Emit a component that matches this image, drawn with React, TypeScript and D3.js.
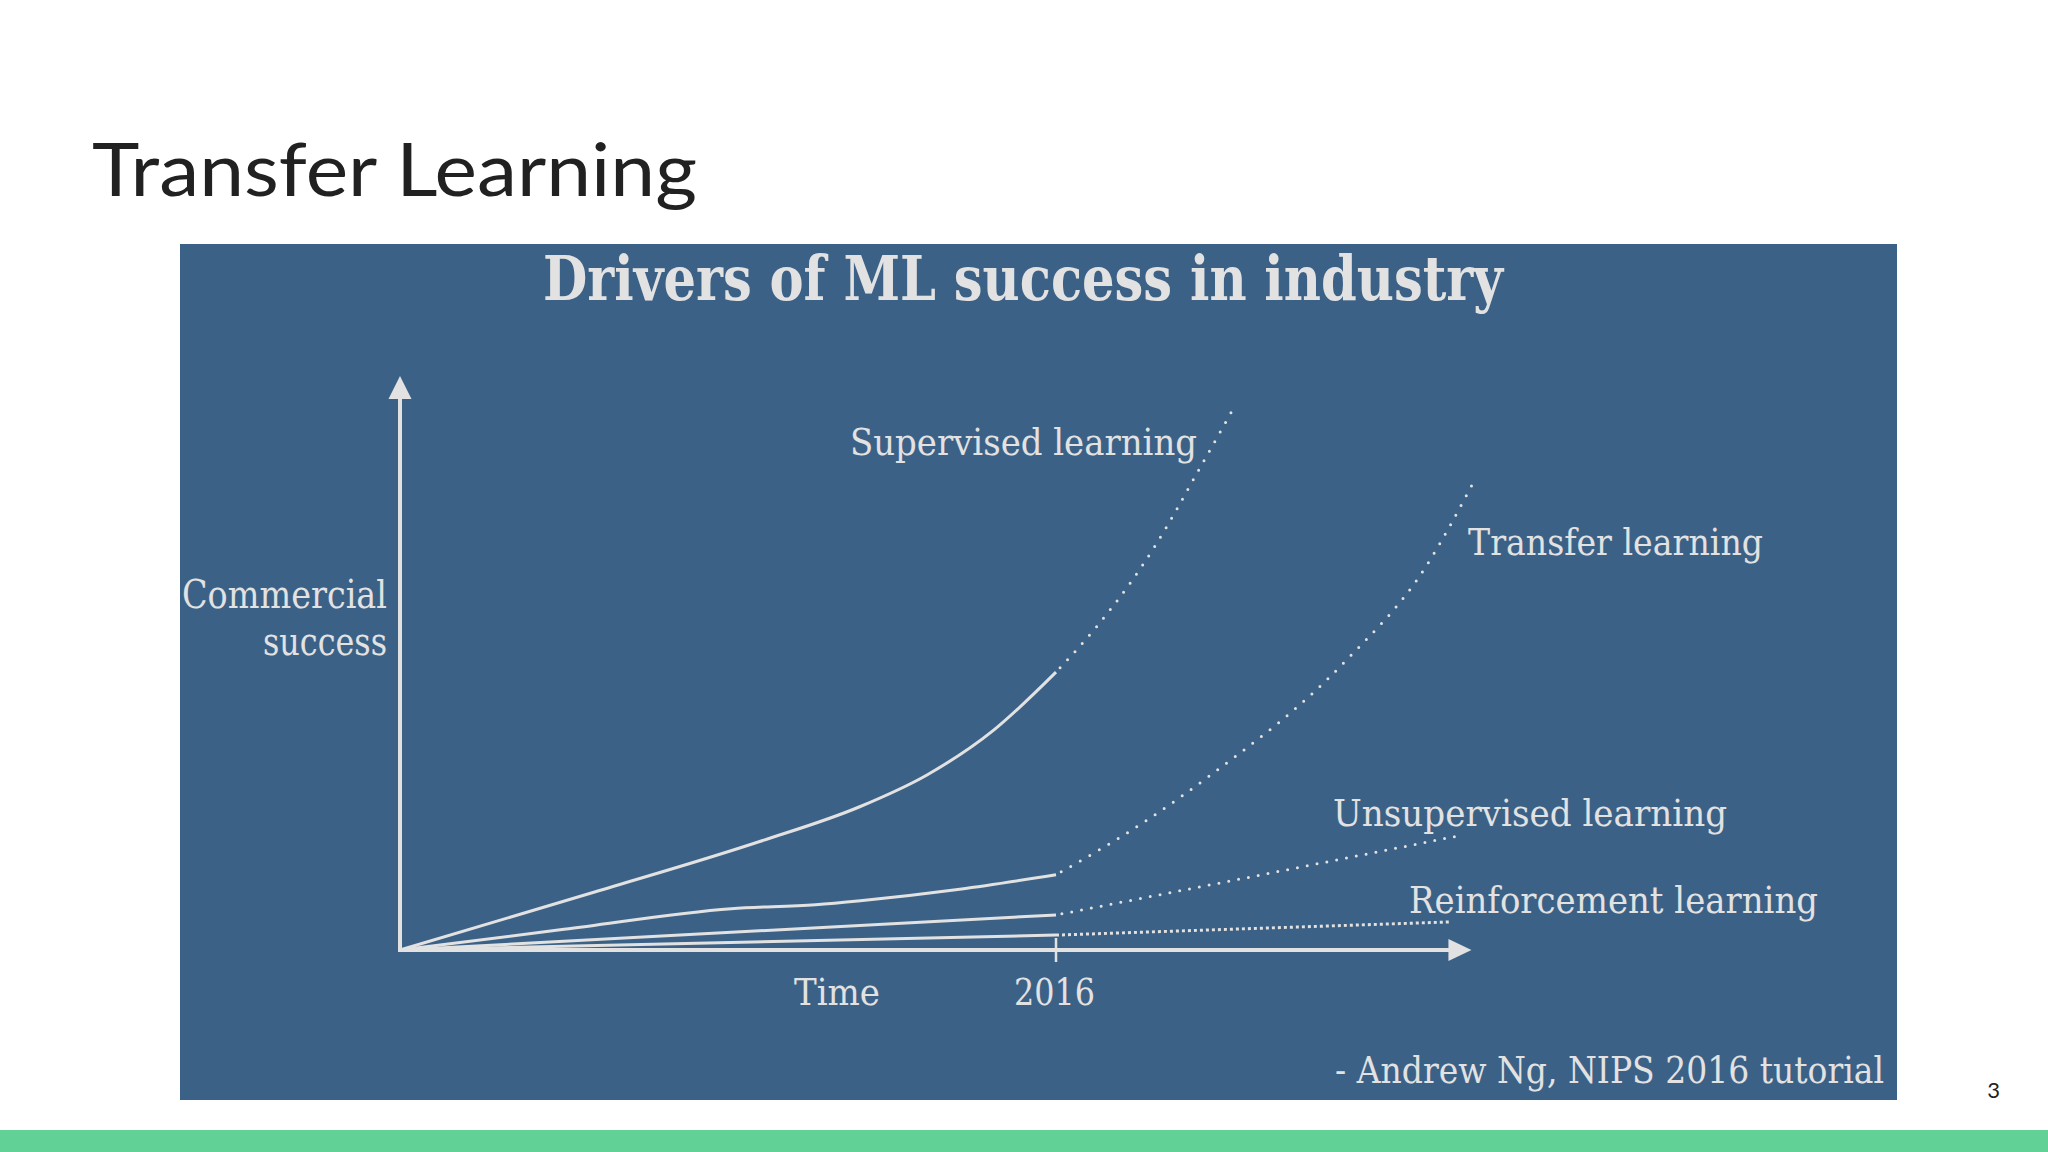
import React from 'react';
import { scaleLinear, line, curveMonotoneX } from 'd3';

// time units: 0 = origin, 60 = 2016; value units: 0..100 of commercial success
const seriesNames = ['Supervised learning', 'Transfer learning', 'Unsupervised learning', 'Reinforcement learning'];

const supervisedPast = [[0, 0], [17.8, 10.1], [32.9, 18.9], [42.1, 25.0], [48.2, 30.5], [54.3, 38.3], [60, 48.4]];
const supervisedFuture = [[60, 48.4], [63.7, 56.3], [67, 64.5], [69, 70.2], [73.2, 84.1], [76.3, 94.6]];

const transferPast = [[0, 0], [15, 3.6], [30.3, 7.2], [38, 7.9], [42.1, 8.6], [51.2, 10.6], [60, 13.1]];
const transferFuture = [[60, 13.1], [68.3, 22.6], [73.8, 30.0], [86.3, 50.0], [93.8, 66.7], [98.1, 81.2]];

const unsupervisedPast = [[0, 0], [60, 6.1]];
const unsupervisedFuture = [[60, 6.1], [78, 12.8], [97.1, 20.0]];

const reinforcementPast = [[0, 0], [60, 2.6]];
const reinforcementFuture = [[60, 2.6], [96.2, 4.9]];

const yearTick = 60;
const yearLabel = '2016';
const xAxisEnd = 98;
const yAxisEnd = 100;

const chartTitle = 'Drivers of ML success in industry';
const credit = '- Andrew Ng, NIPS 2016 tutorial';

function App() {
    const xScale = scaleLinear().domain([0, 60]).range([400, 1056]);
    const yScale = scaleLinear().domain([0, 100]).range([950, 376]);

    const path = line()
        .x(d => xScale(d[0]))
        .y(d => yScale(d[1]))
        .curve(curveMonotoneX);

    const ink = '#e2e2e2';
    const serif = '"DejaVu Serif", serif';

    const past = [supervisedPast, transferPast, unsupervisedPast, reinforcementPast];
    const future = [supervisedFuture, transferFuture, unsupervisedFuture, reinforcementFuture];
    const dots = ['0 11', '0 11', '0 10', '3 3'];
    const caps = ['round', 'round', 'round', 'butt'];

    // label boxes: left x, baseline y, width
    const labelBox = [[850, 455, 347], [1468, 555, 295], [1333, 826, 394], [1409, 913, 409]];

    const x0 = xScale(0), y0 = yScale(0);
    const xEnd = xScale(xAxisEnd), yEnd = yScale(yAxisEnd);
    const xt = xScale(yearTick);

    return (
        <svg width={2048} height={1152} style={{ position: 'absolute', left: 0, top: 0, display: 'block', background: '#fff' }}>
            <text x={92} y={196} fontFamily="Lato, sans-serif" fontSize={74} fill="#212121"
                textLength={605} lengthAdjust="spacingAndGlyphs">Transfer Learning</text>

            <rect x={180} y={244} width={1717} height={856} fill="#3c6186" />

            <text x={543} y={300} fontFamily={serif} fontWeight="bold" fontSize={62} fill={ink}
                textLength={960} lengthAdjust="spacingAndGlyphs">{chartTitle}</text>

            {/* axes */}
            <line x1={x0} y1={y0 + 2} x2={x0} y2={yEnd + 20} stroke={ink} strokeWidth={4} />
            <path d={`M${x0},${yEnd} L${x0 - 11.5},${yEnd + 23} L${x0 + 11.5},${yEnd + 23} Z`} fill={ink} />
            <line x1={x0 - 2} y1={y0} x2={xEnd - 20} y2={y0} stroke={ink} strokeWidth={4} />
            <path d={`M${xEnd},${y0} L${xEnd - 23},${y0 - 11} L${xEnd - 23},${y0 + 11} Z`} fill={ink} />
            <line x1={xt} y1={y0 - 12} x2={xt} y2={y0 + 12} stroke={ink} strokeWidth={2.5} />

            {past.map((d, i) => (
                <path key={'p' + i} d={path(d)} fill="none" stroke={ink} strokeWidth={3} />
            ))}
            {future.map((d, i) => (
                <path key={'f' + i} d={path(d)} fill="none" stroke={ink} strokeWidth={3}
                    strokeDasharray={dots[i]} strokeLinecap={caps[i]} strokeDashoffset={-6} />
            ))}

            {seriesNames.map((name, i) => (
                <text key={name} x={labelBox[i][0]} y={labelBox[i][1]} fontFamily={serif} fontSize={37} fill={ink}
                    textLength={labelBox[i][2]} lengthAdjust="spacingAndGlyphs">{name}</text>
            ))}

            <text x={387} y={608} textAnchor="end" fontFamily={serif} fontSize={40} fill={ink}
                textLength={205} lengthAdjust="spacingAndGlyphs">Commercial</text>
            <text x={387} y={655} textAnchor="end" fontFamily={serif} fontSize={40} fill={ink}
                textLength={124} lengthAdjust="spacingAndGlyphs">success</text>

            <text x={794} y={1005} fontFamily={serif} fontSize={37} fill={ink}
                textLength={86} lengthAdjust="spacingAndGlyphs">Time</text>
            <text x={1014} y={1005} fontFamily={serif} fontSize={37} fill={ink}
                textLength={81} lengthAdjust="spacingAndGlyphs">{yearLabel}</text>

            <text x={1335} y={1083} fontFamily={serif} fontSize={37} fill={ink}
                textLength={549} lengthAdjust="spacingAndGlyphs">{credit}</text>

            <text x={2000} y={1098} textAnchor="end" fontFamily="Lato, sans-serif" fontSize={22} fill="#212121">3</text>

            <rect x={0} y={1130} width={2048} height={22} fill="#62d196" />
        </svg>
    );
}

export default App;
